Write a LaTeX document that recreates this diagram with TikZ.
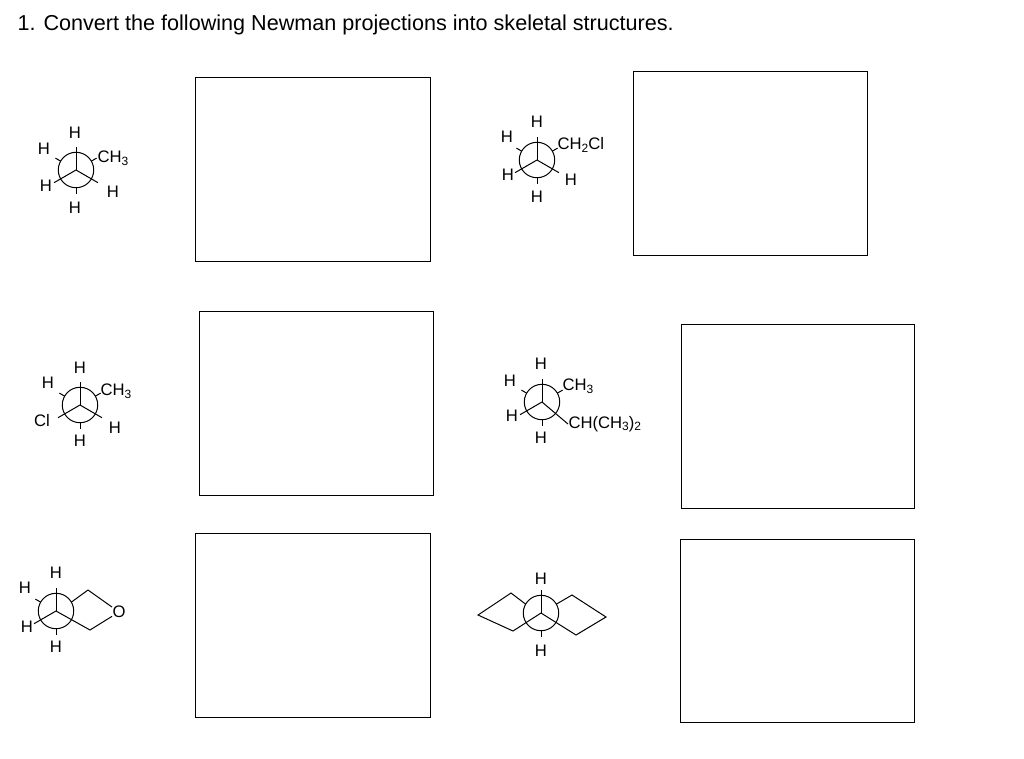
\documentclass[tikz,border=0pt]{standalone}
\usepackage{fontspec}
\setmainfont{Liberation Sans}
\usetikzlibrary{calc}
\newcommand{\lowsub}[1]{\raisebox{-0.3ex}{\fontsize{9}{10}\selectfont #1}}
\begin{document}
\begin{tikzpicture}[x=0.75pt,y=-0.75pt,line width=0.75pt,
  lbl/.style={inner sep=0pt,font=\fontsize{12.5}{14}\selectfont},
  answerbox/.style={draw,line width=0.6pt}]
\useasboundingbox (0,0) rectangle (1024,758);
\node[anchor=west,inner sep=0pt,font=\fontsize{16.2}{18}\selectfont] (title) at (17,25) {1. Convert the following Newman projections into skeletal structures.};
% boxes
\draw[answerbox] (195,77) rectangle (430,261);
\draw[answerbox] (633,71) rectangle (867,255);
\draw[answerbox] (199,311) rectangle (433,495);
\draw[answerbox] (681,324) rectangle (914,508);
\draw[answerbox] (195,533) rectangle (430,717);
\draw[answerbox] (680,539) rectangle (914,722);
% centres
\coordinate (c1) at (76,170);
\coordinate (c2) at (537,160);
\coordinate (c3) at (80,405);
\coordinate (c4) at (542,402);
\coordinate (c5) at (56,611);
\coordinate (c6) at (541,613);
% common parts (absolute polar: 90 = up)
\foreach \c in {c1,c2,c3,c4,c5,c6}{
  \draw (\c) circle (13.3pt);
  \draw (\c) -- +(90:17.5pt);
  \draw ($(\c)+(270:13.3pt)$) -- +(270:4.5pt);
}
\foreach \c in {c1,c2,c3,c4,c5}{
  \draw (\c) -- +(210:19pt);
  \draw ($(\c)+(150:13.3pt)$) -- +(150:4.5pt);
}
\foreach \c in {c1,c2,c3}{
  \draw (\c) -- +(330:19pt);
}
\foreach \c in {c1,c2,c3,c4}{
  \draw ($(\c)+(30:13.3pt)$) -- +(30:4.5pt);
}
% molecule 1
\node[lbl] (h1t) at (75,133) {H};
\node[lbl] (h1ul) at (44,149) {H};
\node[lbl,anchor=west] (m1) at (97,158) {CH\lowsub{3}};
\node[lbl] (h1ll) at (46,186) {H};
\node[lbl] (h1lr) at (113,192) {H};
\node[lbl] (h1b) at (75,208) {H};
% molecule 2
\node[lbl] (h2t) at (537,122) {H};
\node[lbl] (h2ul) at (507,137) {H};
\node[lbl,anchor=west] (m2) at (557,145) {CH\lowsub{2}Cl};
\node[lbl] (h2ll) at (508,175) {H};
\node[lbl] (h2lr) at (571,180) {H};
\node[lbl] (h2b) at (537,197) {H};
% molecule 3
\node[lbl] (h3t) at (80,368) {H};
\node[lbl] (h3ul) at (48,383) {H};
\node[lbl,anchor=west] (m3) at (100,391) {CH\lowsub{3}};
\node[lbl] (cl3) at (42,421) {Cl};
\node[lbl] (h3lr) at (115,428) {H};
\node[lbl] (h3b) at (80,441) {H};
% molecule 4
\node[lbl] (h4t) at (541,364) {H};
\node[lbl] (h4ul) at (510,381) {H};
\node[lbl,anchor=west] (m4) at (562,386) {CH\lowsub{3}};
\node[lbl] (h4ll) at (512,416) {H};
\node[lbl,anchor=west] (m4b) at (568,424) {CH(CH\lowsub{3})\lowsub{2}};
\node[lbl] (h4b) at (541,438) {H};
\draw (c4) -- (m4b.west);
% molecule 5
\node[lbl] (h5t) at (56,573) {H};
\node[lbl] (h5ul) at (25,588) {H};
\node[lbl] (h5ll) at (27,627) {H};
\node[lbl] (h5b) at (56,647) {H};
\node[lbl] (o5) at (119,612) {O};
\coordinate (r5a) at (88,590);
\coordinate (r5b) at (90,630);
\draw ($(c5)+(30:13.3pt)$) -- (r5a) -- (o5);
\draw (c5) -- (r5b) -- (o5);
% molecule 6
\node[lbl] (h6t) at (541,579) {H};
\node[lbl] (h6b) at (541,651) {H};
\coordinate (l6a) at (511,593);
\coordinate (l6b) at (478,615);
\coordinate (l6c) at (513,631);
\coordinate (r6a) at (572,595);
\coordinate (r6b) at (606,617);
\coordinate (r6c) at (576,635);
\draw ($(c6)+(150:13.3pt)$) -- (l6a) -- (l6b) -- (l6c) -- (c6);
\draw ($(c6)+(30:13.3pt)$) -- (r6a) -- (r6b) -- (r6c) -- (c6);
\end{tikzpicture}
\end{document}
